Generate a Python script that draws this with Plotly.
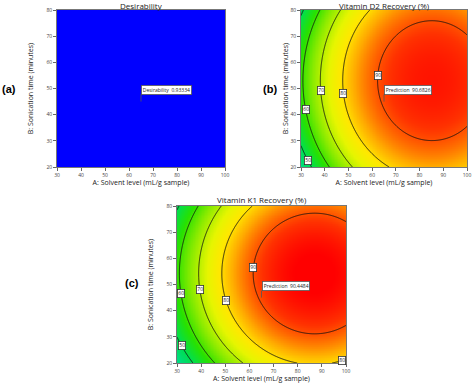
import numpy as np
import plotly.graph_objects as go

# ---------------- data ----------------
A_range = [30, 100]          # A: Solvent level (mL/g sample)
B_range = [20, 80]           # B: Sonication time (minutes)
x_ticks = [30, 40, 50, 60, 70, 80, 90, 100]
y_ticks = [20, 30, 40, 50, 60, 70, 80]
contour_levels = [50, 60, 70, 80, 90]

# optimum solution (flag point)
opt_A = 65.0
opt_B = 45.0
desirability_value = 0.93334
d2_prediction = 90.6826
k1_prediction = 90.4484

# response-surface model coefficients
# Vitamin D2: y = M - a2*r^2 - a3*r^3, r = distance from optimum (A0, B0)
d2_M, d2_A0, d2_B0 = 95.0, 85.2, 53.0
d2_a2, d2_a3 = 0.00786, 7.3e-5
# Vitamin K1: y = M - a2*dA^2 - b2*dB^2
k1_M, k1_A0, k1_B0 = 97.8, 87.0, 54.2
k1_a2, k1_b2 = 0.01205, 0.01468

# contour label placement: (level, B, side)
d2_labels = [(50, 22.3, "left"), (60, 42.0, "left"), (70, 49.4, "left"),
             (80, 48.2, "left"), (90, 54.8, "left")]
k1_labels = [(50, 26.5, "left"), (60, 46.7, "left"), (70, 48.1, "left"),
             (80, 43.9, "left"), (90, 56.4, "left"), (80, 20.9, "right")]


def d2_model(A, B):
    r = np.sqrt((A - d2_A0) ** 2 + (B - d2_B0) ** 2)
    return d2_M - d2_a2 * r**2 - d2_a3 * r**3


def k1_model(A, B):
    dA = A - k1_A0
    dB = B - k1_B0
    return k1_M - k1_a2 * dA**2 - k1_b2 * dB**2


A = np.linspace(A_range[0], A_range[1], 281)
B = np.linspace(B_range[0], B_range[1], 241)
AA, BB = np.meshgrid(A, B)
Z_d2 = d2_model(AA, BB)
Z_k1 = k1_model(AA, BB)

ZMIN, ZMAX = 40, 97
color_stops = [  # (response value, colour)
    (40, "rgb(0,220,150)"),
    (50, "rgb(0,222,80)"),
    (58, "rgb(40,225,0)"),
    (66, "rgb(140,235,0)"),
    (74, "rgb(230,245,0)"),
    (79, "rgb(255,232,0)"),
    (84, "rgb(255,170,0)"),
    (88, "rgb(255,110,0)"),
    (92, "rgb(255,50,0)"),
    (97, "rgb(255,0,0)"),
]
colorscale = [[(v - ZMIN) / (ZMAX - ZMIN), c] for v, c in color_stops]

W, H = 474, 388
FONT = "Open Sans"

# subplot domains (paper) and per-panel title offsets
dom = {
    "a": dict(x=[57 / W, 225 / W], y=[1 - 167 / H, 1 - 10 / H], ystand=12, xstand=3),
    "b": dict(x=[301 / W, 467 / W], y=[1 - 167 / H, 1 - 10 / H], ystand=1, xstand=1),
    "c": dict(x=[177 / W, 346 / W], y=[1 - 363 / H, 1 - 206 / H], ystand=12, xstand=3),
}

fig = go.Figure()

# (a) desirability - uniform blue
fig.add_trace(go.Heatmap(
    x=A_range, y=B_range, z=[[desirability_value]],
    colorscale=[[0, "#0000ff"], [1, "#0000ff"]], showscale=False,
    hoverinfo="skip", xaxis="x", yaxis="y"))

contour_common = dict(
    colorscale=colorscale, zmin=ZMIN, zmax=ZMAX, zauto=False, showscale=False,
    contours=dict(start=contour_levels[0], end=contour_levels[-1],
                  size=contour_levels[1] - contour_levels[0], coloring="heatmap"),
    line=dict(color="#111111", width=0.85), hoverinfo="skip")

fig.add_trace(go.Contour(x=A, y=B, z=Z_d2, xaxis="x2", yaxis="y2", **contour_common))
fig.add_trace(go.Contour(x=A, y=B, z=Z_k1, xaxis="x3", yaxis="y3", **contour_common))

axis_common = dict(
    tickfont=dict(size=5, color="#444", family=FONT), ticks="outside", ticklen=3,
    tickcolor="#666", tickwidth=0.6, showgrid=False, zeroline=False, automargin=False,
    showline=True, linecolor="#777", linewidth=0.6, mirror=True)

layout_axes = {}
for i, key in enumerate(["a", "b", "c"]):
    sx = "" if i == 0 else str(i + 1)
    layout_axes["xaxis" + sx] = dict(
        domain=dom[key]["x"], anchor="y" + sx, range=A_range, tickvals=x_ticks,
        title=dict(text="A: Solvent level (mL/g sample)",
                   font=dict(size=7, color="#222", family=FONT), standoff=dom[key]["xstand"]),
        **axis_common)
    layout_axes["yaxis" + sx] = dict(
        domain=dom[key]["y"], anchor="x" + sx, range=B_range, tickvals=y_ticks,
        title=dict(text="B: Sonication time (minutes)",
                   font=dict(size=7, color="#222", family=FONT), standoff=dom[key]["ystand"]),
        **axis_common)

annotations = []
titles = {"a": ("Desirability", 0), "b": ("Vitamin D2 Recovery (%)", 0),
          "c": ("Vitamin K1 Recovery (%)", 194)}
for key, (t, top_px) in titles.items():
    annotations.append(dict(
        text=t, xref="paper", yref="paper",
        x=(dom[key]["x"][0] + dom[key]["x"][1]) / 2, y=1 - top_px / H,
        xanchor="center", yanchor="top", yshift=1.5, showarrow=False, borderpad=0,
        font=dict(size=8, color="#222", family=FONT)))

panel_pos = {"a": (9, 89), "b": (270, 89), "c": (132, 283)}
for key, (px, py) in panel_pos.items():
    annotations.append(dict(
        text="<b>(%s)</b>" % key, xref="paper", yref="paper", x=px / W, y=1 - py / H,
        xanchor="center", yanchor="middle", showarrow=False,
        font=dict(size=11, color="#000", family="Liberation Sans")))


def find_A(model, level, b, side):
    grid = np.linspace(A_range[0], A_range[1], 7001)
    vals = model(grid, np.full_like(grid, b)) - level
    idx = np.where(np.sign(vals[:-1]) != np.sign(vals[1:]))[0]
    if len(idx) == 0:
        return None
    j = idx[0] if side == "left" else idx[-1]
    return grid[j]


for model, labels, ax in [(d2_model, d2_labels, "2"), (k1_model, k1_labels, "3")]:
    for level, b, side in labels:
        a_pos = find_A(model, level, b, side)
        if a_pos is None:
            continue
        annotations.append(dict(
            text=str(level), x=a_pos, y=b, xref="x" + ax, yref="y" + ax,
            showarrow=False, bgcolor="white", bordercolor="#333", borderwidth=0.8,
            borderpad=0.5, font=dict(size=5, color="#222", family=FONT)))

flags = [("x", "y", "Desirability  %.5f" % desirability_value),
         ("x2", "y2", "Prediction  %.4f" % d2_prediction),
         ("x3", "y3", "Prediction  %.4f" % k1_prediction)]
for xr, yr, txt in flags:
    annotations.append(dict(
        text=txt, x=opt_A, y=opt_B, xref=xr, yref=yr, showarrow=True,
        arrowhead=0, arrowwidth=0.8, arrowcolor="#555", ax=0, ay=-7,
        xanchor="left", yanchor="bottom", bgcolor="white", bordercolor="#555",
        borderwidth=0.8, borderpad=1, font=dict(size=5, color="#222", family=FONT)))

fig.update_layout(
    width=W, height=H, margin=dict(l=0, r=0, t=0, b=0),
    paper_bgcolor="white", plot_bgcolor="white", showlegend=False,
    annotations=annotations, **layout_axes)

fig.write_html(
    "out.html", config={"displayModeBar": False},
    post_script="document.body.style.margin='0';document.body.style.overflow='hidden';")
